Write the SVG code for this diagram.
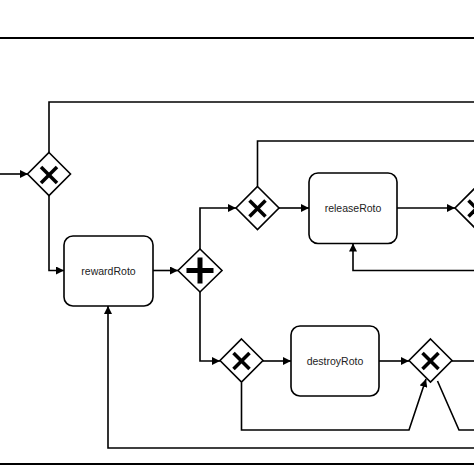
<svg xmlns="http://www.w3.org/2000/svg" width="474" height="474" viewBox="0 0 474 474">
<style>
.ln{fill:none;stroke:#000;stroke-width:1.6}
.pool{fill:none;stroke:#000;stroke-width:2}
.gw{fill:#fff;stroke:#000;stroke-width:1.6}
.xm{stroke:#000;stroke-width:3.6;stroke-linecap:butt}
.task{fill:#fff;stroke:#000;stroke-width:1.6}
.lbl{font-family:"Liberation Sans",Arial,sans-serif;font-size:10.5px;fill:#222;text-anchor:middle;dominant-baseline:central}
</style>
<defs>
<marker id="ah" viewBox="0 0 10 10" refX="10" refY="5" markerWidth="8" markerHeight="8" markerUnits="userSpaceOnUse" orient="auto">
<path d="M0,0 L10,5 L0,10 z" fill="#000"/>
</marker>
<g id="xmark"><line class="xm" x1="-8" y1="-8" x2="8" y2="8"/><line class="xm" x1="8" y1="-8" x2="-8" y2="8"/></g>
</defs>
<rect width="474" height="474" fill="#fff"/>
<g id="pool">
<path class="pool" d="M0,38 H474"/>
<path class="pool" d="M0,464 H474"/>
</g>
<g id="connectors">
<path class="ln" d="M0,174 H28" marker-end="url(#ah)"/>
<path class="ln" d="M49,153 V102 H474"/>
<path class="ln" d="M49,196 V270.5 H64" marker-end="url(#ah)"/>
<path class="ln" d="M153,270.5 H178" marker-end="url(#ah)"/>
<path class="ln" d="M200,249 V208 H236" marker-end="url(#ah)"/>
<path class="ln" d="M257.5,186.5 V141 H474"/>
<path class="ln" d="M279,208 H309" marker-end="url(#ah)"/>
<path class="ln" d="M397,208 H455" marker-end="url(#ah)"/>
<path class="ln" d="M474,270.5 H353 V243.5" marker-end="url(#ah)"/>
<path class="ln" d="M200,292 V361 H220" marker-end="url(#ah)"/>
<path class="ln" d="M263,361 H291" marker-end="url(#ah)"/>
<path class="ln" d="M379,361 H409" marker-end="url(#ah)"/>
<path class="ln" d="M452,361 H474"/>
<path class="ln" d="M241.5,382.5 V430 H409 L426,379" marker-end="url(#ah)"/>
<path class="ln" d="M437.5,381 L459,430 H474"/>
<path class="ln" d="M474,448 H108 V306" marker-end="url(#ah)"/>
</g>
<g id="gw1">
<path class="gw" d="M49,152.5 L70.5,174 L49,195.5 L27.5,174 z"/>
<use href="#xmark" x="49" y="175"/>
</g>
<g id="rewardRoto">
<rect class="task" x="64" y="236" width="89" height="70" rx="9"/>
<text class="lbl" x="108.5" y="271">rewardRoto</text>
</g>
<g id="parallel">
<path class="gw" d="M200,249 L222,270.5 L200,292 L178,270.5 z"/>
<path d="M186.5,268 H213.5 V273 H186.5 z M197.5,257.5 H202.5 V283.5 H197.5 z" fill="#000"/>
</g>
<g id="gw2">
<path class="gw" d="M257.5,186.5 L279,208 L257.5,229.5 L236,208 z"/>
<use href="#xmark" x="257.5" y="208.5"/>
</g>
<g id="releaseRoto">
<rect class="task" x="309" y="173" width="88" height="70.5" rx="9"/>
<text class="lbl" x="353" y="208">releaseRoto</text>
</g>
<g id="gw5">
<path class="gw" d="M476.5,186.5 L498,208 L476.5,229.5 L455,208 z"/>
<use href="#xmark" x="476.5" y="208.5"/>
</g>
<g id="gw3">
<path class="gw" d="M241.5,339 L263,360.5 L241.5,382 L220,360.5 z"/>
<use href="#xmark" x="241.5" y="361"/>
</g>
<g id="destroyRoto">
<rect class="task" x="291" y="326" width="88" height="70" rx="9"/>
<text class="lbl" x="335" y="361">destroyRoto</text>
</g>
<g id="gw4">
<path class="gw" d="M430.5,339 L452,360.5 L430.5,382 L409,360.5 z"/>
<use href="#xmark" x="430.5" y="361"/>
</g>
</svg>
